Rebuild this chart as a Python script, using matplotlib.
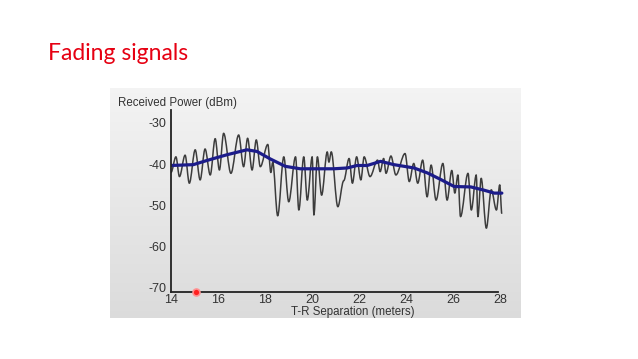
import numpy as np
import matplotlib
matplotlib.use("Agg")
import matplotlib.pyplot as plt
from matplotlib.path import Path
from matplotlib.patches import PathPatch

# Fast-fading received power (black) - peaks and troughs
sep_m = [14.00, 14.21, 14.36, 14.60, 14.78, 15.03, 15.24, 15.45, 15.67, 15.88,
         16.06, 16.24, 16.55, 16.88, 17.09, 17.26, 17.45, 17.63, 17.80, 18.12,
         18.25, 18.33, 18.54, 18.80, 19.01, 19.30, 19.44, 19.65, 19.80, 20.01,
         20.08, 20.23, 20.41, 20.65, 20.72, 20.82, 21.10, 21.35, 21.58, 21.72,
         21.90, 22.08, 22.22, 22.47, 22.79, 22.90, 23.05, 23.15, 23.36, 23.57,
         23.96, 24.14, 24.33, 24.50, 24.71, 24.90, 25.07, 25.28, 25.57, 25.75,
         25.95, 26.08, 26.21, 26.32, 26.64, 26.78, 26.99, 27.06, 27.20, 27.42,
         27.63, 27.85, 27.99, 28.08]
power_dbm = [-42.0, -38.2, -43.0, -37.8, -44.6, -36.5, -43.8, -36.3, -42.6, -33.8,
             -41.4, -32.5, -42.2, -32.9, -40.6, -33.7, -41.4, -34.1, -40.6, -35.2,
             -42.0, -39.5, -52.5, -38.2, -49.1, -38.2, -51.1, -38.2, -48.7, -38.2,
             -52.3, -38.2, -47.5, -37.0, -39.5, -37.0, -50.3, -44.0, -38.6, -44.6,
             -38.2, -43.8, -38.2, -43.0, -39.0, -41.8, -38.6, -42.2, -38.0, -42.6,
             -37.4, -44.2, -39.8, -44.6, -39.0, -47.9, -40.2, -48.7, -39.8, -48.7,
             -41.5, -47.0, -42.6, -52.7, -42.2, -51.1, -42.6, -52.7, -43.4, -55.5,
             -46.2, -51.1, -45.0, -52.0]

# Local mean (blue)
mean_m = [14.0, 14.95, 15.52, 16.38, 17.23, 17.66, 18.22, 18.86, 19.5, 20.93,
          21.5, 21.92, 22.35, 22.92, 23.49, 24.34, 24.91, 25.48, 26.05, 26.76,
          27.33, 27.76, 28.08]
mean_dbm = [-40.3, -40.1, -39.1, -37.7, -36.5, -36.9, -38.7, -40.5, -41.1, -41.1,
            -40.9, -40.3, -40.3, -39.3, -40.1, -40.9, -42.1, -43.7, -45.4, -45.5,
            -46.3, -47.0, -47.0]

x_ticks = [14, 16, 18, 20, 22, 24, 26, 28]
y_ticks = [-30, -40, -50, -60, -70]

W, H = 638, 359
fig = plt.figure(figsize=(W / 100, H / 100), dpi=100)
fig.patch.set_facecolor("white")

# Title
fig.text(48 / W, 1 - 53 / H, "Fading signals", color="#e60012",
         fontsize=16.5, family="Lato", va="center", ha="left")

# Gray gradient panel
bg = fig.add_axes([110 / W, 1 - 318 / H, (521 - 110) / W, (318 - 88) / H])
grad = np.linspace(0.955, 0.86, 256).reshape(-1, 1)
bg.imshow(np.dstack([grad, grad, grad]), aspect="auto", extent=[0, 1, 0, 1])
bg.set_axis_off()

# Plot axes
left_px, right_px = 171, 503.5
bot_px, top_px = 292, 110
ax = fig.add_axes([left_px / W, 1 - bot_px / H, (right_px - left_px) / W,
                   (bot_px - top_px) / H])
ax.patch.set_alpha(0)
ax.set_xlim(14, 28.15)
ax.set_ylim(-70.97, -26.85)


def smooth_path(xs, ys):
    """Bezier path through extrema with flat tangents (oscillation look)."""
    verts = [(xs[0], ys[0])]
    codes = [Path.MOVETO]
    for i in range(1, len(xs)):
        x0, y0, x1, y1 = xs[i - 1], ys[i - 1], xs[i], ys[i]
        d = (x1 - x0) * 0.34
        verts += [(x0 + d, y0), (x1 - d, y1), (x1, y1)]
        codes += [Path.CURVE4] * 3
    return Path(verts, codes)


ax.add_patch(PathPatch(smooth_path(sep_m, power_dbm), fill=False,
                       edgecolor="#3c3c3c", lw=1.1, joinstyle="round"))
ax.plot(mean_m, mean_dbm, color="#1c1c8a", lw=2.3, solid_capstyle="round")

ax.plot([15.08], [-70.9], "o", ms=5, color="#ff2020", mec="#ff9090", mew=1.2,
        clip_on=False, zorder=5)

for s in ["top", "right"]:
    ax.spines[s].set_visible(False)
for s in ["left", "bottom"]:
    ax.spines[s].set_color("#222222")
    ax.spines[s].set_linewidth(1.3)
ax.spines["bottom"].set_bounds(14, 27.92)

ax.set_xticks(x_ticks)
ax.set_yticks(y_ticks)
ax.set_xticklabels([str(v) for v in x_ticks])
ax.set_yticklabels([str(v) for v in y_ticks])
ax.tick_params(axis="both", length=0, labelsize=9, labelcolor="#333333")
ax.tick_params(axis="y", pad=3)
ax.tick_params(axis="x", pad=1.5)
for lab in ax.get_xticklabels() + ax.get_yticklabels():
    lab.set_family("Liberation Sans")

fig.text(118 / W, 1 - 103 / H, "Received Power (dBm)", fontsize=8.3,
         family="Liberation Sans", color="#333333", va="center", ha="left")
fig.text(353 / W, 1 - 312 / H, "T-R Separation (meters)", fontsize=8.3,
         family="Liberation Sans", color="#333333", va="center", ha="center")

fig.savefig("out.png", dpi=100)
